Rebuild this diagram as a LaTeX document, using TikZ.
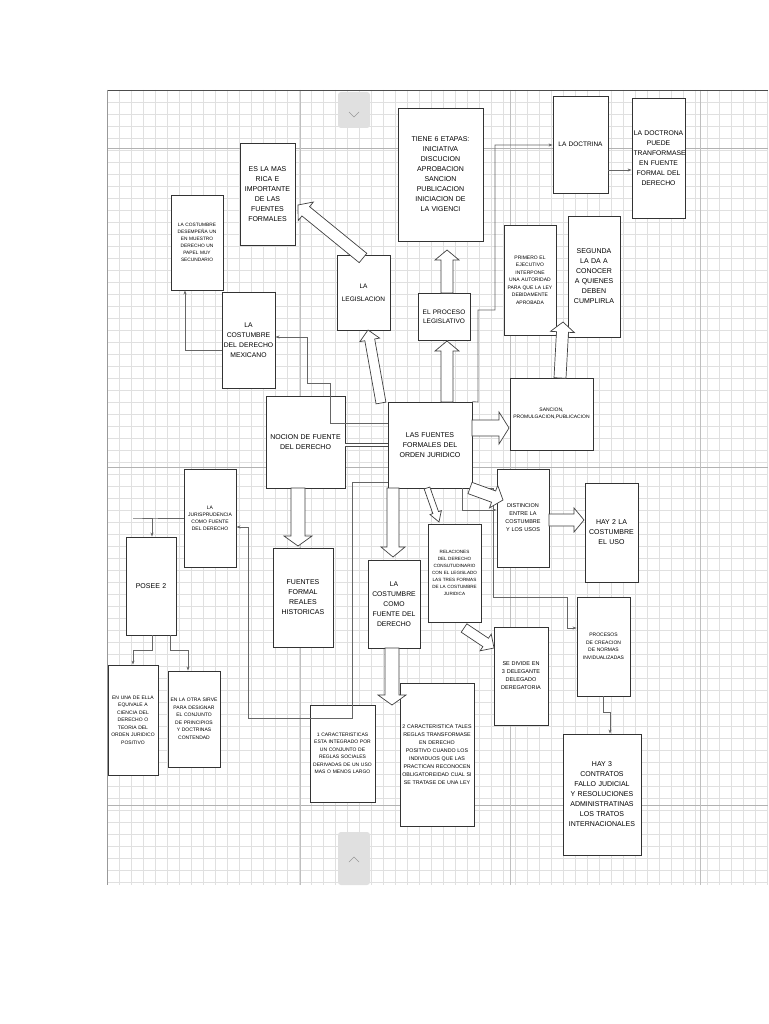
\documentclass[tikz,border=0pt]{standalone}
\usepackage{fontspec}
\setmainfont{Liberation Sans}
\usetikzlibrary{calc,arrows.meta}
\hyphenpenalty=10000 \exhyphenpenalty=10000
\tikzset{
 box/.style={draw=black!80, line width=0.9pt, fill=white, align=center, inner sep=1pt, font=\fontsize{6.5}{8}\selectfont},
 conn/.style={draw=black!60, line width=0.6pt, -{Stealth[length=4pt]}},
 barrow/.style={draw=black!75, line width=0.7pt, fill=white}
}
\newcommand\bx[7]{%
 \pgfmathsetmacro\bw{#4-#2}\pgfmathsetmacro\bh{#5-#3}%
 \pgfmathsetmacro\cx{(#2+#4)/2}\pgfmathsetmacro\cy{(#3+#5)/2}\pgfmathsetmacro\tw{#4-#2-3}%
 \node[box, minimum width=\bw pt, minimum height=\bh pt, text width=\tw pt, #6] (#1) at (\cx,\cy) {\hyphenpenalty=10000 #7};}
\newcommand\barr[3]{%
 \coordinate (bA) at (#2); \coordinate (bB) at (#3);
 \coordinate (bH) at ($(bB)!10pt!(bA)$);
 \draw[barrow] ($(bA)!#1!90:(bB)$) -- ($(bH)!#1!90:(bB)$) -- ($(bH)!{2*#1}!90:(bB)$) -- (bB)
   -- ($(bH)!{2*#1}!-90:(bB)$) -- ($(bH)!#1!-90:(bB)$) -- ($(bA)!#1!-90:(bB)$) -- cycle;}
\begin{document}
\begin{tikzpicture}[x=1pt,y=-1pt]
\useasboundingbox (0,0) rectangle (768,1024);
\fill[white] (0,0) rectangle (768,1024);
% grid
\foreach \yy in {90,102,...,885} \draw[black!12, line width=0.3pt] (107,\yy) -- (768,\yy);
\foreach \xx in {107,119,...,768} \draw[black!12, line width=0.3pt] (\xx,90) -- (\xx,885);
\foreach \yy in {148,467,805} \draw[black!30, line width=0.5pt] (107,\yy) -- (768,\yy);
\foreach \xx in {300,510,700} \draw[black!25, line width=0.5pt] (\xx,90) -- (\xx,885);
\draw[black!70, line width=0.8pt] (107,90) -- (768,90);
\draw[black!40] (107,90) -- (107,885);
% scroll tabs
\fill[black!12, rounded corners=3pt] (338,92) rectangle (370,128);
\draw[black!40] (349,112) -- (354,117) -- (359,112);
\fill[black!12, rounded corners=3pt] (338,832) rectangle (370,885);
\draw[black!40] (349,862) -- (354,857) -- (359,862);
% boxes
\bx{esla}{240}{143}{295}{245}{font=\fontsize{7}{10}\selectfont}{ES LA MAS RICA E IMPORTANTE DE LAS FUENTES FORMALES}
\bx{desem}{171}{195}{223}{290}{font=\fontsize{4.8}{7}\selectfont}{LA COSTUMBRE DESEMPEÑA UN EN MUESTRO DERECHO UN PAPEL MUY SECUNDARIO}
\bx{mex}{222}{292}{275}{388}{font=\fontsize{6.8}{10}\selectfont}{LA COSTUMBRE DEL DERECHO MEXICANO}
\bx{legis}{337}{255}{390}{330}{font=\fontsize{6.5}{9}\selectfont}{LA\\[4pt] LEGISLACION}
\bx{tiene}{398}{108}{483}{241}{font=\fontsize{7}{10}\selectfont}{TIENE 6 ETAPAS:\\ INICIATIVA\\ DISCUCION\\ APROBACION\\ SANCION\\ PUBLICACION\\ INICIACION DE LA VIGENCI}
\bx{proc}{418}{293}{470}{340}{font=\fontsize{6.5}{9}\selectfont}{EL PROCESO LEGISLATIVO}
\bx{doct}{553}{96}{608}{193}{font=\fontsize{6.5}{9}\selectfont}{LA DOCTRINA}
\bx{doctr}{632}{98}{685}{218}{font=\fontsize{6.8}{10}\selectfont}{LA DOCTRONA PUEDE TRANFORMASE EN FUENTE FORMAL DEL DERECHO}
\bx{prim}{504}{225}{556}{335}{font=\fontsize{5}{7.5}\selectfont}{PRIMERO EL EJECUTIVO INTERPONE UNA AUTORIDAD PARA QUE LA LEY DEBIDAMENTE APROBADA}
\bx{seg}{568}{216}{620}{337}{font=\fontsize{7}{10}\selectfont}{SEGUNDA LA DA A CONOCER A QUIENES DEBEN CUMPLIRLA}
\bx{sanc}{510}{378}{593}{450}{font=\fontsize{5}{7}\selectfont}{SANCION,\\ PROMULGACION,PUBLICACION}
\bx{noc}{266}{396}{345}{488}{font=\fontsize{7}{10}\selectfont}{NOCION DE FUENTE DEL DERECHO}
\bx{fue}{388}{402}{472}{488}{font=\fontsize{7}{10}\selectfont}{LAS FUENTES FORMALES DEL ORDEN JURIDICO}
\bx{juris}{184}{469}{236}{567}{font=\fontsize{5}{7}\selectfont}{LA JURISPRUDENCIA COMO FUENTE DEL DERECHO}
\bx{posee}{126}{537}{176}{635}{font=\fontsize{7}{10}\selectfont}{POSEE 2}
\bx{real}{273}{548}{333}{647}{font=\fontsize{7}{10}\selectfont}{FUENTES FORMAL REALES HISTORICAS}
\bx{como}{368}{560}{420}{648}{font=\fontsize{6.8}{10}\selectfont}{LA COSTUMBRE COMO FUENTE DEL DERECHO}
\bx{rel}{428}{524}{481}{622}{font=\fontsize{4.6}{7}\selectfont}{RELACIONES DEL DERECHO CONSUTUDINARIO CON EL LEGISLADO LAS TRES FORMAS DE LA COSTUMBRE JURIDICA}
\bx{dist}{497}{469}{549}{567}{font=\fontsize{5.5}{8}\selectfont}{DISTINCION ENTRE LA COSTUMBRE Y LOS USOS}
\bx{hay2}{585}{483}{638}{582}{font=\fontsize{7}{10}\selectfont}{HAY 2 LA COSTUMBRE EL USO}
\bx{divide}{494}{627}{548}{725}{font=\fontsize{5.5}{8}\selectfont}{SE DIVIDE EN 3 DELEGANTE DELEGADO DEREGATORIA}
\bx{crea}{577}{597}{630}{696}{font=\fontsize{5}{7.5}\selectfont}{PROCESOS DE CREACION DE NORMAS INVIDUALIZADAS}
\bx{hay3}{563}{734}{641}{855}{font=\fontsize{7}{10}\selectfont}{HAY 3\\ CONTRATOS FALLO JUDICIAL Y RESOLUCIONES ADMINISTRATINAS LOS TRATOS INTERNACIONALES}
\bx{dos}{400}{683}{474}{826}{font=\fontsize{5.3}{8}\selectfont}{2 CARACTERISTICA TALES REGLAS TRANSFORMASE EN DERECHO POSITIVO CUANDO LOS INDIVIDUOS QUE LAS PRACTICAN RECONOCEN OBLIGATOREIDAD CUAL SI SE TRATASE DE UNA LEY}
\bx{uno}{310}{705}{375}{802}{font=\fontsize{5}{7.5}\selectfont}{1 CARACTERISTICAS ESTA INTEGRADO POR UN CONJUNTO DE REGLAS SOCIALES DERIVADAS DE UN USO MAS O MENOS LARGO}
\bx{una}{108}{665}{158}{775}{font=\fontsize{5}{7.5}\selectfont}{EN UNA DE ELLA EQUIVALE A CIENCIA DEL DERECHO O TEORIA DEL ORDEN JURIDICO POSITIVO}
\bx{otra}{168}{671}{220}{767}{font=\fontsize{5}{7.5}\selectfont}{EN LA OTRA SIRVE PARA DESIGNAR EL CONJUNTO DE PRINCIPIOS Y DOCTRINAS CONTENDAD}
% thin connectors
\draw[conn] (fue.west |- 0,423) -- (330,423) -- (330,383) -- (307,383) -- (307,337) -- (mex.east |- 0,337);
\draw[conn] (mex.west |- 0,350) -- (185,350) -- (desem.south -| 185,0);
\draw[conn] (fue.north east) -- (478,402) -- (478,310) -- (495,310) -- (495,145) -- (doct.west |- 0,145);
\draw[conn] (doct.east |- 0,170) -- (doctr.west |- 0,170);
\draw[conn] (fue.south west |- 0,482) -- (352,482) -- (352,718) -- (248,718) -- (248,527) -- (juris.east |- 0,527);
\draw[conn] (juris.west |- 0,518) -- (133,518) -- (152,518) -- (posee.north -| 152,0);
\draw[conn] (posee.south -| 152,0) -- (152,650) -- (133,650) -- (una.north -| 133,0);
\draw[conn] (posee.south -| 170,0) -- (170,650) -- (188,650) -- (otra.north -| 188,0);
\draw[conn] (fue.south -| 462,0) -- (462,510) -- (dist.west |- 0,510);
\draw[conn] (fue.south -| 485,0) -- (485,488) -- (493,488) -- (493,597) -- (567,597) -- (567,628) -- (crea.west |- 0,628);
\draw[conn] (crea.south -| 603,0) -- (603,712) -- (610,712) -- (hay3.north -| 610,0);
\draw[conn] (proc.south -| 447,0) -- (447,360);
\draw[black!70, line width=0.8pt, double, double distance=1.5pt] (noc.east |- 0,445) -- (fue.west |- 0,445);
% block arrows
\barr{6pt}{363,258}{298,205}
\barr{5pt}{381,403}{368,330}
\barr{6pt}{447,402}{447,341}
\barr{6pt}{447,293}{447,250}
\barr{6pt}{560,378}{563,322}
\barr{8pt}{472,428}{509,428}
\barr{7pt}{298,488}{298,546}
\barr{6pt}{393,488}{393,557}
\barr{3pt}{427,488}{439,522}
\barr{6pt}{470,488}{503,500}
\barr{6pt}{549,520}{584,520}
\barr{5pt}{464,628}{494,648}
\barr{7pt}{392,648}{392,705}
\end{tikzpicture}
\end{document}
